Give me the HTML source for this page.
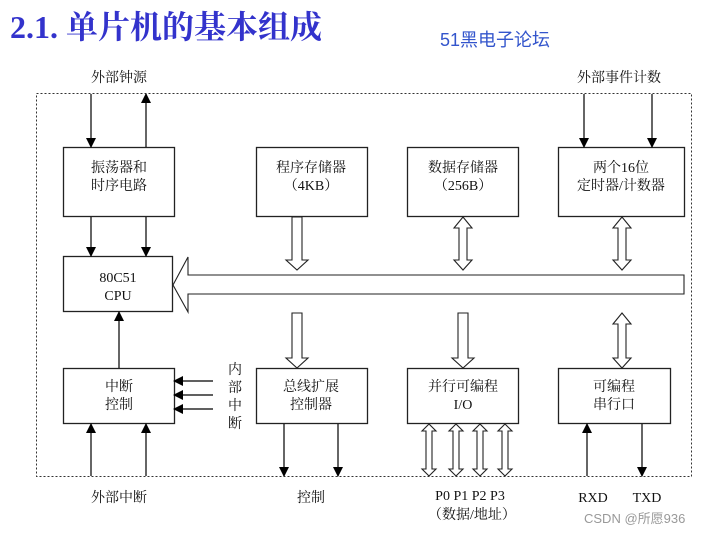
<!DOCTYPE html>
<html><head><meta charset="utf-8"><style>
body{margin:0;background:#fff;width:707px;height:534px;overflow:hidden}
svg{display:block}
text{font-family:"Liberation Serif","Noto Serif CJK SC",serif;font-size:14px;fill:#111}
</style></head><body>
<svg width="707" height="534" viewBox="0 0 707 534">
<defs>
<marker id="a" markerWidth="10" markerHeight="10" refX="9" refY="5" orient="auto" markerUnits="userSpaceOnUse"><path d="M0,0 L10,5 L0,10 z" fill="#000"/></marker>
</defs>
<text x="10" y="38" style="font-size:32px;font-weight:bold;fill:#3333cc;font-family:'Liberation Serif','Noto Serif CJK SC',serif">2.1. 单片机的基本组成</text>
<text x="440" y="46" style="font-size:18px;fill:#3355cc;font-family:'Liberation Sans','Noto Sans CJK SC',sans-serif">51黑电子论坛</text>
<rect x="36.5" y="93.5" width="655" height="383" fill="none" stroke="#333" stroke-dasharray="2,2"/>
<g fill="none" stroke="#222" stroke-width="1.3">
<rect x="63.5" y="147.5" width="111" height="69"/>
<rect x="256.5" y="147.5" width="111" height="69"/>
<rect x="407.5" y="147.5" width="111" height="69"/>
<rect x="558.5" y="147.5" width="126" height="69"/>
<rect x="63.5" y="256.5" width="109" height="55"/>
<rect x="63.5" y="368.5" width="111" height="55"/>
<rect x="256.5" y="368.5" width="111" height="55"/>
<rect x="407.5" y="368.5" width="111" height="55"/>
<rect x="558.5" y="368.5" width="112" height="55"/>
</g>
<g stroke="#000" stroke-width="1.2" marker-end="url(#a)">
<line x1="91" y1="94" x2="91" y2="147"/>
<line x1="146" y1="147" x2="146" y2="94"/>
<line x1="91" y1="217" x2="91" y2="256"/>
<line x1="146" y1="217" x2="146" y2="256"/>
<line x1="584" y1="94" x2="584" y2="147"/>
<line x1="652" y1="94" x2="652" y2="147"/>
<line x1="119" y1="368" x2="119" y2="312"/>
<line x1="213" y1="381" x2="174" y2="381"/>
<line x1="213" y1="395" x2="174" y2="395"/>
<line x1="213" y1="409" x2="174" y2="409"/>
<line x1="91" y1="476" x2="91" y2="424"/>
<line x1="146" y1="476" x2="146" y2="424"/>
<line x1="284" y1="424" x2="284" y2="476"/>
<line x1="338" y1="424" x2="338" y2="476"/>
<line x1="587" y1="476" x2="587" y2="424"/>
<line x1="642" y1="424" x2="642" y2="476"/>
</g>
<g fill="#fff" stroke="#222" stroke-width="1.1">
<path d="M173,285 L188,257 L188,275 L684,275 L684,294 L188,294 L188,312 Z"/>
<path d="M292,217 L302,217 L302,260 L308,260 L297,270 L286,260 L292,260 Z"/>
<path d="M292,313 L302,313 L302,358 L308,358 L297,368 L286,358 L292,358 Z"/>
<path d="M458,313 L468,313 L468,358 L474,358 L463,368 L452,358 L458,358 Z"/>
<path d="M463,217 L472,228 L467,228 L467,260 L472,260 L463,270 L454,260 L459,260 L459,228 L454,228 Z"/>
<path d="M622,217 L631,228 L626,228 L626,260 L631,260 L622,270 L613,260 L618,260 L618,228 L613,228 Z"/>
<path d="M622,313 L631,324 L626,324 L626,358 L631,358 L622,368 L613,358 L618,358 L618,324 L613,324 Z"/>
<path d="M429,424 L436,431 L432,431 L432,469 L436,469 L429,476 L422,469 L426,469 L426,431 L422,431 Z"/>
<path d="M456,424 L463,431 L459,431 L459,469 L463,469 L456,476 L449,469 L453,469 L453,431 L449,431 Z"/>
<path d="M480,424 L487,431 L483,431 L483,469 L487,469 L480,476 L473,469 L477,469 L477,431 L473,431 Z"/>
<path d="M505,424 L512,431 L508,431 L508,469 L512,469 L505,476 L498,469 L502,469 L502,431 L498,431 Z"/>
</g>
<g text-anchor="middle">
<text x="119" y="82">外部钟源</text>
<text x="619" y="82">外部事件计数</text>
<text x="119" y="172">振荡器和</text><text x="119" y="190">时序电路</text>
<text x="311" y="172">程序存储器</text><text x="311" y="190">（4KB）</text>
<text x="463" y="172">数据存储器</text><text x="463" y="190">（256B）</text>
<text x="621" y="172">两个16位</text><text x="621" y="190">定时器/计数器</text>
<text x="118" y="282">80C51</text><text x="118" y="300">CPU</text>
<text x="119" y="391">中断</text><text x="119" y="409">控制</text>
<text x="311" y="391">总线扩展</text><text x="311" y="409">控制器</text>
<text x="463" y="391">并行可编程</text><text x="463" y="409">I/O</text>
<text x="614" y="391">可编程</text><text x="614" y="409">串行口</text>
<text x="235" y="374">内</text><text x="235" y="392">部</text><text x="235" y="410">中</text><text x="235" y="428">断</text>
<text x="119" y="502">外部中断</text>
<text x="311" y="502">控制</text>
<text x="470" y="500">P0 P1 P2 P3</text>
<text x="472" y="519">（数据/地址）</text>
<text x="593" y="502">RXD</text>
<text x="647" y="502">TXD</text>
</g>
<text x="584" y="523" style="font-family:'Liberation Sans','Noto Sans CJK SC',sans-serif;font-size:13px;fill:#999">CSDN @所愿936</text>
</svg>
</body></html>
